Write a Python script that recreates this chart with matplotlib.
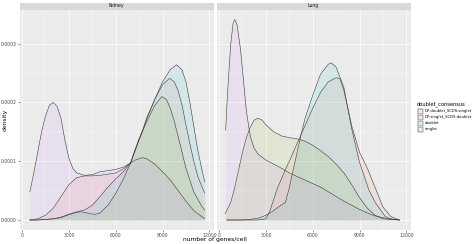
import numpy as np
import matplotlib.pyplot as plt
from matplotlib.patches import Rectangle

# densities are read in units of 1e-4
groups = ["DP:doublet_SCDS:singlet", "DP:singlet_SCDS:doublet", "doublet", "singlet"]
colors = ["#F8766D", "#7CAE00", "#00BFC4", "#C77CFF"]
panels = ["Kidney", "Lung"]

# Kidney
k_red_x = [500, 1000, 1500, 2000, 2500, 3000, 3500, 4000, 4500, 5000, 5500, 6000, 6500, 6950, 7250, 7500, 7750, 8000, 8500, 9000, 9450, 9750, 10000, 10250, 10500, 10750, 11000, 11250, 11500, 11700]
k_red_y = [0.0, 0.02, 0.08, 0.2, 0.4, 0.6, 0.72, 0.75, 0.75, 0.76, 0.78, 0.8, 0.87, 0.97, 1.2, 1.38, 1.55, 1.75, 2.05, 2.3, 2.41, 2.35, 2.2, 1.95, 1.62, 1.3, 1.0, 0.75, 0.58, 0.46]

k_green_x = [500, 1000, 1500, 2000, 2500, 3000, 3500, 3750, 4000, 4500, 4750, 5000, 5500, 6000, 6500, 6950, 7250, 7500, 7750, 8000, 8500, 8960, 9250, 9500, 9750, 10000, 10500, 11000, 11500, 11700]
k_green_y = [0.0, 0.0, 0.01, 0.02, 0.04, 0.09, 0.13, 0.14, 0.13, 0.1, 0.1, 0.12, 0.25, 0.45, 0.7, 0.97, 1.2, 1.38, 1.53, 1.68, 1.95, 2.1, 2.05, 1.9, 1.68, 1.42, 0.88, 0.48, 0.24, 0.17]

k_cyan_x = [500, 1000, 1500, 2000, 2500, 3000, 3500, 4000, 4500, 5000, 5500, 6000, 6500, 6950, 7250, 7500, 7750, 8000, 8500, 9000, 9500, 9900, 10250, 10500, 10750, 11000, 11250, 11500, 11700]
k_cyan_y = [0.0, 0.0, 0.01, 0.02, 0.05, 0.1, 0.14, 0.17, 0.25, 0.4, 0.56, 0.7, 0.82, 0.97, 1.18, 1.36, 1.53, 1.72, 2.05, 2.35, 2.56, 2.64, 2.55, 2.35, 2.0, 1.6, 1.2, 0.88, 0.65]

k_purple_x = [500, 750, 1000, 1250, 1500, 1750, 2000, 2250, 2500, 2750, 3000, 3250, 3500, 4000, 4500, 5000, 5500, 6000, 6500, 6950, 7250, 7700, 8000, 8500, 9000, 9500, 10000, 10500, 11000, 11500, 11700]
k_purple_y = [0.48, 0.8, 1.15, 1.5, 1.77, 1.95, 2.0, 1.93, 1.72, 1.35, 1.05, 0.88, 0.8, 0.76, 0.77, 0.82, 0.84, 0.86, 0.9, 0.97, 1.02, 1.06, 1.04, 0.95, 0.82, 0.68, 0.5, 0.32, 0.16, 0.06, 0.03]

# Lung
l_red_x = [500, 1500, 2500, 3000, 3250, 3500, 3750, 4000, 4250, 4500, 5000, 5500, 6000, 6500, 7000, 7500, 7750, 8000, 8500, 9000, 9500, 10000, 10500, 11000, 11550]
l_red_y = [0.0, 0.0, 0.0, 0.02, 0.15, 0.35, 0.55, 0.7, 0.86, 1.0, 1.3, 1.6, 1.9, 2.17, 2.35, 2.42, 2.4, 2.2, 1.6, 1.15, 0.88, 0.55, 0.22, 0.06, 0.0]

l_green_x = [400, 750, 1000, 1250, 1500, 1750, 2000, 2250, 2500, 2750, 3000, 3500, 4000, 4500, 5000, 5500, 6000, 6500, 7000, 7500, 8000, 8500, 9000, 9500, 10000, 10500, 11000, 11550]
l_green_y = [0.11, 0.3, 0.55, 0.85, 1.15, 1.4, 1.58, 1.7, 1.73, 1.7, 1.62, 1.5, 1.43, 1.4, 1.38, 1.34, 1.27, 1.18, 1.08, 0.95, 0.8, 0.6, 0.38, 0.2, 0.08, 0.02, 0.01, 0.0]

l_cyan_x = [500, 1500, 2000, 2500, 3000, 3500, 3900, 4250, 4500, 4750, 5000, 5250, 5500, 6000, 6500, 7000, 7200, 7500, 8000, 8500, 9000, 9600, 10000, 10650, 11000, 11550]
l_cyan_y = [0.0, 0.0, 0.01, 0.03, 0.08, 0.16, 0.24, 0.3, 0.55, 0.85, 1.15, 1.45, 1.72, 2.12, 2.48, 2.65, 2.67, 2.6, 2.25, 1.55, 0.98, 0.51, 0.3, 0.06, 0.02, 0.0]

l_purple_x = [425, 500, 600, 750, 900, 1015, 1150, 1375, 1500, 1750, 2000, 2250, 2500, 3000, 3500, 4000, 4500, 5000, 5500, 6000, 6500, 7000, 7500, 8000, 8500, 9000, 9500, 10000, 10500, 11000, 11550]
l_purple_y = [1.53, 1.95, 2.4, 3.0, 3.35, 3.41, 3.32, 2.9, 2.55, 1.85, 1.42, 1.22, 1.12, 1.02, 0.95, 0.88, 0.8, 0.74, 0.68, 0.62, 0.56, 0.48, 0.4, 0.32, 0.25, 0.18, 0.12, 0.07, 0.04, 0.015, 0.0]

curves = {
    "Kidney": [(k_red_x, k_red_y), (k_green_x, k_green_y), (k_cyan_x, k_cyan_y), (k_purple_x, k_purple_y)],
    "Lung": [(l_red_x, l_red_y), (l_green_x, l_green_y), (l_cyan_x, l_cyan_y), (l_purple_x, l_purple_y)],
}

W, H = 474, 244
fig = plt.figure(figsize=(W / 100, H / 100), dpi=100)

def frac(x0, y0, x1, y1):
    return [x0 / W, 1 - y1 / H, (x1 - x0) / W, (y1 - y0) / H]

panel_px = {"Kidney": (19.5, 213.5), "Lung": (216.5, 410.5)}
top, bottom = 9.5, 230

for name in panels:
    x0, x1 = panel_px[name]
    ax = fig.add_axes(frac(x0, top, x1, bottom))
    ax.set_facecolor("#EBEBEB")
    for s in ax.spines.values():
        s.set_visible(False)
    ax.set_xlim(-165, 12265)
    ax.set_ylim(-0.17e-4, 3.58e-4)
    ax.set_xticks([0, 3000, 6000, 9000, 12000])
    ax.set_xticks([1500, 4500, 7500, 10500], minor=True)
    ax.set_yticks([0, 1e-4, 2e-4, 3e-4])
    ax.set_yticks([0.5e-4, 1.5e-4, 2.5e-4, 3.5e-4], minor=True)
    ax.grid(which="major", color="white", lw=0.5)
    ax.grid(which="minor", color="white", lw=0.25)
    ax.set_axisbelow(True)
    ax.tick_params(which="major", length=1.2, width=0.4, color="#333333",
                   labelsize=3.3, labelcolor="#4D4D4D", pad=1)
    ax.tick_params(which="minor", length=0)
    if name == "Kidney":
        ax.set_yticklabels(["0.0000", "0.0001", "0.0002", "0.0003"])
    else:
        ax.tick_params(axis="y", which="major", labelleft=False, length=0)
    for (xs, ys), c in zip(curves[name], colors):
        xs = np.array(xs)
        ys = np.array(ys) * 1e-4
        ax.fill_between(xs, 0, ys, color=c, alpha=0.1, lw=0)
        ax.plot(xs, ys, color="#3a3a3a", lw=0.4)

    sx = fig.add_axes(frac(x0, 2.5, x1, top))
    sx.set_facecolor("#D9D9D9")
    sx.set_xticks([])
    sx.set_yticks([])
    for s in sx.spines.values():
        s.set_visible(False)
    sx.text(0.5, 0.5, name, ha="center", va="center", fontsize=3.3, color="#1A1A1A",
            transform=sx.transAxes)

fig.text(215 / W, 1 - 240 / H, "number of genes/cell", ha="center", va="center", fontsize=4.3)
fig.text(5 / W, 1 - 120 / H, "density", ha="center", va="center", rotation=90, fontsize=4.3)

# legend
fig.text(417 / W, 1 - 104 / H, "doublet_consensus", ha="left", va="center", fontsize=3.7)
for i, (g, c) in enumerate(zip(groups, colors)):
    yc = 111 + i * 6
    fig.patches.append(Rectangle((417 / W, 1 - (yc + 3) / H), 6 / W, 6 / H,
                                 transform=fig.transFigure, facecolor="#F2F2F2", edgecolor="none"))
    fig.patches.append(Rectangle((417.5 / W, 1 - (yc + 2.5) / H), 5 / W, 5 / H,
                                 transform=fig.transFigure, facecolor=c, alpha=0.1, edgecolor="none"))
    fig.patches.append(Rectangle((417.5 / W, 1 - (yc + 2.5) / H), 5 / W, 5 / H,
                                 transform=fig.transFigure, facecolor="none", edgecolor="#333333", lw=0.3))
    fig.text(425 / W, 1 - yc / H, g, ha="left", va="center", fontsize=2.7)

fig.savefig("out.png", dpi=100, facecolor="white")
